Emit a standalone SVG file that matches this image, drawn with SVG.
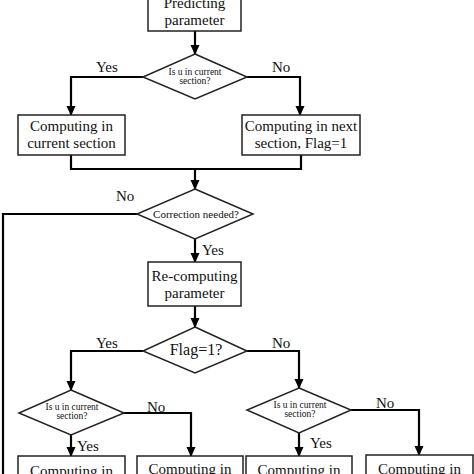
<svg xmlns="http://www.w3.org/2000/svg" width="474" height="474" viewBox="0 0 474 474">
<defs>
<marker id="ah" markerWidth="10" markerHeight="10" refX="9" refY="5" orient="auto" markerUnits="userSpaceOnUse">
<path d="M0,0.5 L10,5 L0,9.5 Z" fill="#000"/>
</marker>
<style>
.box{fill:#fff;stroke:#222;stroke-width:1.5}
.dia{fill:#fff;stroke:#222;stroke-width:1.5}
.c{fill:none;stroke:#000;stroke-width:2.2}
.a{marker-end:url(#ah)}
text{font-family:"Liberation Serif","Times New Roman",serif;fill:#111;text-anchor:middle}
.t{font-size:15px}
.s{font-size:9.5px}
.m{font-size:11px}
.f{font-size:16px}
.l{font-size:15px;text-anchor:start}
</style>
</defs>
<rect width="474" height="474" fill="#fff"/>
<g id="connectors">
<path class="c a" d="M195,31 V54"/>
<path class="c a" d="M143,77 H71 V115"/>
<path class="c a" d="M247,77 H300 V115"/>
<path class="c" d="M71,155 V169 H301 V155"/>
<path class="c a" d="M195,169 V189"/>
<path class="c" d="M137,214 H3 V480"/>
<path class="c a" d="M195,239 V262"/>
<path class="c a" d="M195,306 V327"/>
<path class="c a" d="M143,351 H71 V390"/>
<path class="c a" d="M247,351 H299 V388"/>
<path class="c a" d="M71,435 V456"/>
<path class="c a" d="M124,413 H191 V456"/>
<path class="c a" d="M299,433 V456"/>
<path class="c a" d="M351,410 H419 V455"/>
<text class="l" x="96" y="72">Yes</text>
<text class="l" x="272" y="72">No</text>
<text class="l" x="116" y="201">No</text>
<text class="l" x="202" y="255">Yes</text>
<text class="l" x="96" y="348">Yes</text>
<text class="l" x="272" y="348">No</text>
<text class="l" x="147" y="412">No</text>
<text class="l" x="77" y="451">Yes</text>
<text class="l" x="376" y="408">No</text>
<text class="l" x="310" y="448">Yes</text>
</g>
<g id="predict">
<rect class="box" x="148" y="-20" width="93" height="51"/>
<text class="t" x="194.5" y="7.5">Predicting</text>
<text class="t" x="194.5" y="25">parameter</text>
</g>
<g id="dec1">
<polygon class="dia" points="195,54 247,77 195,99 143,77"/>
<text class="s" x="195" y="75">Is u in current</text>
<text class="s" x="195" y="84">section?</text>
</g>
<g id="cur1">
<rect class="box" x="18" y="115" width="107" height="40"/>
<text class="t" x="71.5" y="131">Computing in</text>
<text class="t" x="71.5" y="148">current section</text>
</g>
<g id="next1">
<rect class="box" x="242" y="115" width="118" height="40"/>
<text class="t" x="301" y="131">Computing in next</text>
<text class="t" x="301" y="148">section, Flag=1</text>
</g>
<g id="dec2">
<polygon class="dia" points="195,189 253,214 195,239 137,214"/>
<text class="m" x="196" y="218">Correction needed?</text>
</g>
<g id="recomp">
<rect class="box" x="148" y="262" width="93" height="44"/>
<text class="t" x="194.5" y="281">Re-computing</text>
<text class="t" x="194.5" y="298">parameter</text>
</g>
<g id="dec3">
<polygon class="dia" points="195,327 247,351 195,373 143,351"/>
<text class="f" x="196" y="355">Flag=1?</text>
</g>
<g id="dec4">
<polygon class="dia" points="71,390 124,413 71,435 19,413"/>
<text class="s" x="72" y="410">Is u in current</text>
<text class="s" x="72" y="419">section?</text>
</g>
<g id="dec5">
<polygon class="dia" points="299,388 351,410 299,433 247,410"/>
<text class="s" x="300" y="408">Is u in current</text>
<text class="s" x="300" y="417">section?</text>
</g>
<g id="box4a">
<rect class="box" x="18" y="456" width="107" height="30"/>
<text class="t" x="71.5" y="476">Computing in</text>
</g>
<g id="box4b">
<rect class="box" x="137" y="456" width="106" height="30"/>
<text class="t" x="190" y="474">Computing in</text>
</g>
<g id="box5a">
<rect class="box" x="246" y="456" width="106" height="30"/>
<text class="t" x="299" y="475">Computing in</text>
</g>
<g id="box5b">
<rect class="box" x="366" y="455" width="107" height="30"/>
<text class="t" x="419.5" y="474">Computing in</text>
</g>
</svg>
